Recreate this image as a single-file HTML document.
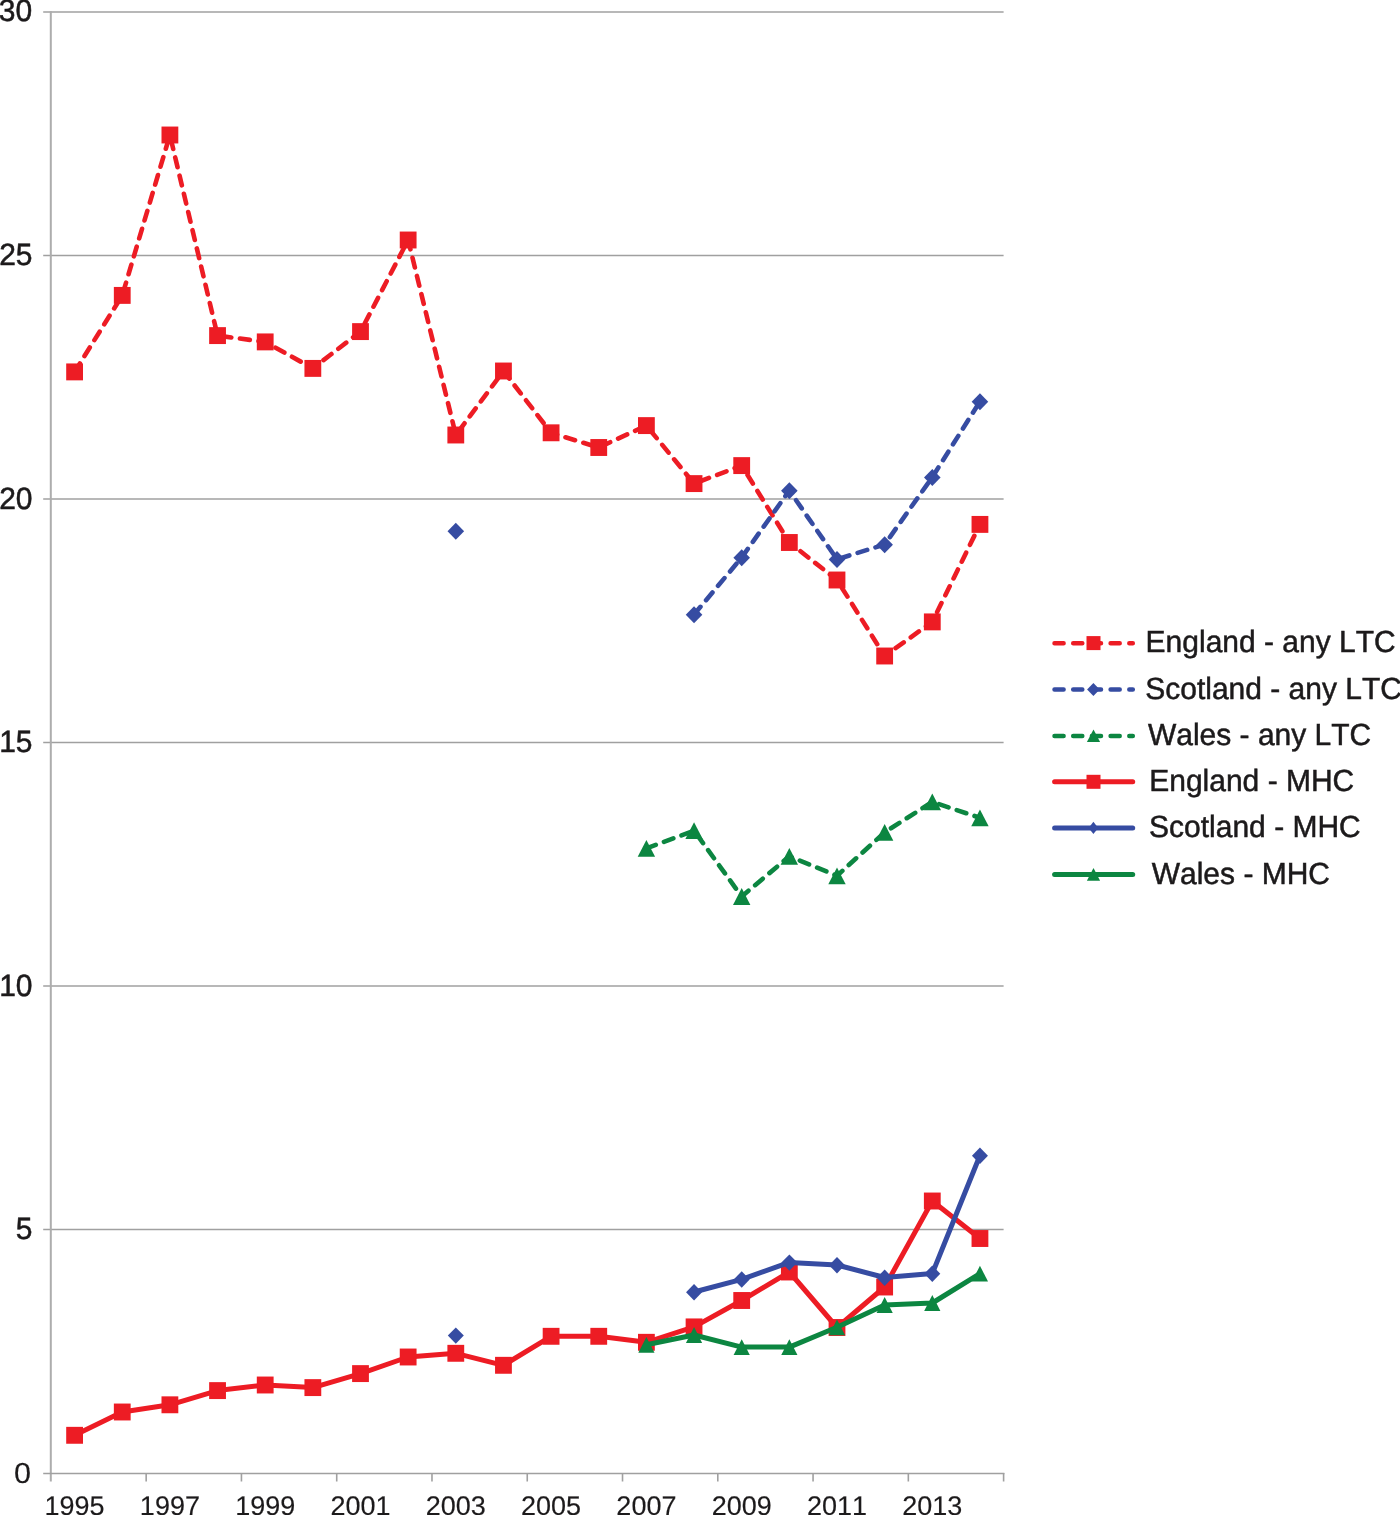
<!DOCTYPE html>
<html lang="en"><head><meta charset="utf-8"><title>Chart</title>
<style>html,body{margin:0;padding:0;background:#fff}svg{display:block}text{font-family:"Liberation Sans",sans-serif;fill:#1c1a1b;font-kerning:none;text-rendering:geometricPrecision;stroke:#1c1a1b;stroke-width:0.5px}text.c{stroke-width:0.15px}</style></head><body>
<svg width="1400" height="1515" viewBox="0 0 1400 1515">
<rect width="1400" height="1515" fill="#fff"/>
<line x1="43.2" y1="12.05" x2="1003.6" y2="12.05" stroke="#a0a0a0" stroke-width="1.6"/>
<line x1="43.2" y1="255.55" x2="1003.6" y2="255.55" stroke="#a0a0a0" stroke-width="1.6"/>
<line x1="43.2" y1="499.05" x2="1003.6" y2="499.05" stroke="#a0a0a0" stroke-width="1.6"/>
<line x1="43.2" y1="742.55" x2="1003.6" y2="742.55" stroke="#a0a0a0" stroke-width="1.6"/>
<line x1="43.2" y1="986.05" x2="1003.6" y2="986.05" stroke="#a0a0a0" stroke-width="1.6"/>
<line x1="43.2" y1="1229.55" x2="1003.6" y2="1229.55" stroke="#a0a0a0" stroke-width="1.6"/>
<line x1="50.8" y1="11.2" x2="50.8" y2="1481.5" stroke="#adadad" stroke-width="2"/>
<line x1="43.2" y1="1473.5" x2="1004.4" y2="1473.5" stroke="#a0a0a0" stroke-width="1.5"/>
<line x1="146.17" y1="1473" x2="146.17" y2="1481.5" stroke="#a0a0a0" stroke-width="1.6"/>
<line x1="241.44" y1="1473" x2="241.44" y2="1481.5" stroke="#a0a0a0" stroke-width="1.6"/>
<line x1="336.71" y1="1473" x2="336.71" y2="1481.5" stroke="#a0a0a0" stroke-width="1.6"/>
<line x1="431.98" y1="1473" x2="431.98" y2="1481.5" stroke="#a0a0a0" stroke-width="1.6"/>
<line x1="527.25" y1="1473" x2="527.25" y2="1481.5" stroke="#a0a0a0" stroke-width="1.6"/>
<line x1="622.52" y1="1473" x2="622.52" y2="1481.5" stroke="#a0a0a0" stroke-width="1.6"/>
<line x1="717.79" y1="1473" x2="717.79" y2="1481.5" stroke="#a0a0a0" stroke-width="1.6"/>
<line x1="813.06" y1="1473" x2="813.06" y2="1481.5" stroke="#a0a0a0" stroke-width="1.6"/>
<line x1="908.33" y1="1473" x2="908.33" y2="1481.5" stroke="#a0a0a0" stroke-width="1.6"/>
<line x1="1003.60" y1="1473" x2="1003.60" y2="1481.5" stroke="#a0a0a0" stroke-width="1.6"/>
<text transform="translate(32.1 21.45) scale(1 1.025)" font-size="30" text-anchor="end">30</text>
<text transform="translate(32.5 265.45) scale(1 1.025)" font-size="30" text-anchor="end">25</text>
<text transform="translate(32.5 508.95) scale(1 1.025)" font-size="30" text-anchor="end">20</text>
<text transform="translate(32.5 752.45) scale(1 1.025)" font-size="30" text-anchor="end">15</text>
<text transform="translate(32.5 995.95) scale(1 1.025)" font-size="30" text-anchor="end">10</text>
<text transform="translate(32.5 1239.45) scale(1 1.025)" font-size="30" text-anchor="end">5</text>
<text class="c" x="22.4" y="1483.2" font-size="29" text-anchor="middle" textLength="17" lengthAdjust="spacingAndGlyphs">0</text>
<text class="c" x="74.60" y="1515.1" font-size="27" text-anchor="middle">1995</text>
<text class="c" x="169.90" y="1515.1" font-size="27" text-anchor="middle">1997</text>
<text class="c" x="265.20" y="1515.1" font-size="27" text-anchor="middle">1999</text>
<text class="c" x="360.50" y="1515.1" font-size="27" text-anchor="middle">2001</text>
<text class="c" x="455.80" y="1515.1" font-size="27" text-anchor="middle">2003</text>
<text class="c" x="551.10" y="1515.1" font-size="27" text-anchor="middle">2005</text>
<text class="c" x="646.40" y="1515.1" font-size="27" text-anchor="middle">2007</text>
<text class="c" x="741.70" y="1515.1" font-size="27" text-anchor="middle">2009</text>
<text class="c" x="837.00" y="1515.1" font-size="27" text-anchor="middle">2011</text>
<text class="c" x="932.30" y="1515.1" font-size="27" text-anchor="middle">2013</text>
<path d="M74.60 371.90L122.25 295.40L169.90 135.00L217.55 335.60L265.20 341.90L312.85 368.40L360.50 331.60L408.15 240.00L455.80 435.00L503.45 371.00L551.10 432.80L598.75 447.50L646.40 425.60L694.05 483.60L741.70 465.60L789.35 542.50L837.00 580.00L884.65 656.00L932.30 621.90L979.95 524.40" fill="none" stroke="#ed1c24" stroke-width="4.6" stroke-linejoin="round" stroke-dasharray="10 8.7" stroke-linecap="round"/>
<rect x="66.20" y="363.45" width="16.8" height="16.9" fill="#ed1c24"/>
<rect x="113.85" y="286.95" width="16.8" height="16.9" fill="#ed1c24"/>
<rect x="161.50" y="126.55" width="16.8" height="16.9" fill="#ed1c24"/>
<rect x="209.15" y="327.15" width="16.8" height="16.9" fill="#ed1c24"/>
<rect x="256.80" y="333.45" width="16.8" height="16.9" fill="#ed1c24"/>
<rect x="304.45" y="359.95" width="16.8" height="16.9" fill="#ed1c24"/>
<rect x="352.10" y="323.15" width="16.8" height="16.9" fill="#ed1c24"/>
<rect x="399.75" y="231.55" width="16.8" height="16.9" fill="#ed1c24"/>
<rect x="447.40" y="426.55" width="16.8" height="16.9" fill="#ed1c24"/>
<rect x="495.05" y="362.55" width="16.8" height="16.9" fill="#ed1c24"/>
<rect x="542.70" y="424.35" width="16.8" height="16.9" fill="#ed1c24"/>
<rect x="590.35" y="439.05" width="16.8" height="16.9" fill="#ed1c24"/>
<rect x="638.00" y="417.15" width="16.8" height="16.9" fill="#ed1c24"/>
<rect x="685.65" y="475.15" width="16.8" height="16.9" fill="#ed1c24"/>
<rect x="733.30" y="457.15" width="16.8" height="16.9" fill="#ed1c24"/>
<rect x="780.95" y="534.05" width="16.8" height="16.9" fill="#ed1c24"/>
<rect x="828.60" y="571.55" width="16.8" height="16.9" fill="#ed1c24"/>
<rect x="876.25" y="647.55" width="16.8" height="16.9" fill="#ed1c24"/>
<rect x="923.90" y="613.45" width="16.8" height="16.9" fill="#ed1c24"/>
<rect x="971.55" y="515.95" width="16.8" height="16.9" fill="#ed1c24"/>
<path d="M694.05 614.50L741.70 557.50L789.35 490.50L837.00 559.30L884.65 544.50L932.30 477.20L979.95 401.50" fill="none" stroke="#364ca2" stroke-width="4.6" stroke-linejoin="round" stroke-dasharray="10 8.7" stroke-linecap="round"/>
<path d="M455.80 522.70L464.10 531.20L455.80 539.70L447.50 531.20Z" fill="#364ca2"/>
<path d="M694.05 606.20L702.35 614.70L694.05 623.20L685.75 614.70Z" fill="#364ca2"/>
<path d="M741.70 549.20L750.00 557.70L741.70 566.20L733.40 557.70Z" fill="#364ca2"/>
<path d="M789.35 482.20L797.65 490.70L789.35 499.20L781.05 490.70Z" fill="#364ca2"/>
<path d="M837.00 551.00L845.30 559.50L837.00 568.00L828.70 559.50Z" fill="#364ca2"/>
<path d="M884.65 536.20L892.95 544.70L884.65 553.20L876.35 544.70Z" fill="#364ca2"/>
<path d="M932.30 468.90L940.60 477.40L932.30 485.90L924.00 477.40Z" fill="#364ca2"/>
<path d="M979.95 393.20L988.25 401.70L979.95 410.20L971.65 401.70Z" fill="#364ca2"/>
<path d="M646.40 848.30L694.05 830.70L741.70 896.50L789.35 856.30L837.00 875.80L884.65 832.30L932.30 801.90L979.95 817.80" fill="none" stroke="#0c8641" stroke-width="4.6" stroke-linejoin="round" stroke-dasharray="10 8.7" stroke-linecap="round"/>
<path d="M646.40 839.90L655.10 856.70L637.70 856.70Z" fill="#0c8641"/>
<path d="M694.05 822.30L702.75 839.10L685.35 839.10Z" fill="#0c8641"/>
<path d="M741.70 888.10L750.40 904.90L733.00 904.90Z" fill="#0c8641"/>
<path d="M789.35 847.90L798.05 864.70L780.65 864.70Z" fill="#0c8641"/>
<path d="M837.00 867.40L845.70 884.20L828.30 884.20Z" fill="#0c8641"/>
<path d="M884.65 823.90L893.35 840.70L875.95 840.70Z" fill="#0c8641"/>
<path d="M932.30 793.50L941.00 810.30L923.60 810.30Z" fill="#0c8641"/>
<path d="M979.95 809.40L988.65 826.20L971.25 826.20Z" fill="#0c8641"/>
<path d="M74.60 1435.30L122.25 1412.00L169.90 1404.80L217.55 1390.60L265.20 1385.00L312.85 1387.60L360.50 1373.60L408.15 1357.00L455.80 1353.30L503.45 1365.30L551.10 1336.30L598.75 1336.30L646.40 1342.30L694.05 1326.90L741.70 1300.50L789.35 1272.00L837.00 1327.50L884.65 1287.00L932.30 1201.00L979.95 1238.50" fill="none" stroke="#ed1c24" stroke-width="5.0" stroke-linejoin="round" stroke-linecap="round"/>
<rect x="66.20" y="1426.85" width="16.8" height="16.9" fill="#ed1c24"/>
<rect x="113.85" y="1403.55" width="16.8" height="16.9" fill="#ed1c24"/>
<rect x="161.50" y="1396.35" width="16.8" height="16.9" fill="#ed1c24"/>
<rect x="209.15" y="1382.15" width="16.8" height="16.9" fill="#ed1c24"/>
<rect x="256.80" y="1376.55" width="16.8" height="16.9" fill="#ed1c24"/>
<rect x="304.45" y="1379.15" width="16.8" height="16.9" fill="#ed1c24"/>
<rect x="352.10" y="1365.15" width="16.8" height="16.9" fill="#ed1c24"/>
<rect x="399.75" y="1348.55" width="16.8" height="16.9" fill="#ed1c24"/>
<rect x="447.40" y="1344.85" width="16.8" height="16.9" fill="#ed1c24"/>
<rect x="495.05" y="1356.85" width="16.8" height="16.9" fill="#ed1c24"/>
<rect x="542.70" y="1327.85" width="16.8" height="16.9" fill="#ed1c24"/>
<rect x="590.35" y="1327.85" width="16.8" height="16.9" fill="#ed1c24"/>
<rect x="638.00" y="1333.85" width="16.8" height="16.9" fill="#ed1c24"/>
<rect x="685.65" y="1318.45" width="16.8" height="16.9" fill="#ed1c24"/>
<rect x="733.30" y="1292.05" width="16.8" height="16.9" fill="#ed1c24"/>
<rect x="780.95" y="1263.55" width="16.8" height="16.9" fill="#ed1c24"/>
<rect x="828.60" y="1319.05" width="16.8" height="16.9" fill="#ed1c24"/>
<rect x="876.25" y="1278.55" width="16.8" height="16.9" fill="#ed1c24"/>
<rect x="923.90" y="1192.55" width="16.8" height="16.9" fill="#ed1c24"/>
<rect x="971.55" y="1230.05" width="16.8" height="16.9" fill="#ed1c24"/>
<path d="M694.05 1292.00L741.70 1279.30L789.35 1262.40L837.00 1265.00L884.65 1277.50L932.30 1273.50L979.95 1155.50" fill="none" stroke="#364ca2" stroke-width="5.0" stroke-linejoin="round" stroke-linecap="round"/>
<path d="M455.80 1327.40L463.80 1335.60L455.80 1343.80L447.80 1335.60Z" fill="#364ca2"/>
<path d="M694.05 1284.00L702.05 1292.20L694.05 1300.40L686.05 1292.20Z" fill="#364ca2"/>
<path d="M741.70 1271.30L749.70 1279.50L741.70 1287.70L733.70 1279.50Z" fill="#364ca2"/>
<path d="M789.35 1254.40L797.35 1262.60L789.35 1270.80L781.35 1262.60Z" fill="#364ca2"/>
<path d="M837.00 1257.00L845.00 1265.20L837.00 1273.40L829.00 1265.20Z" fill="#364ca2"/>
<path d="M884.65 1269.50L892.65 1277.70L884.65 1285.90L876.65 1277.70Z" fill="#364ca2"/>
<path d="M932.30 1265.50L940.30 1273.70L932.30 1281.90L924.30 1273.70Z" fill="#364ca2"/>
<path d="M979.95 1147.50L987.95 1155.70L979.95 1163.90L971.95 1155.70Z" fill="#364ca2"/>
<path d="M646.40 1344.80L694.05 1335.00L741.70 1347.10L789.35 1347.10L837.00 1327.30L884.65 1305.00L932.30 1303.00L979.95 1273.70" fill="none" stroke="#0c8641" stroke-width="5.0" stroke-linejoin="round" stroke-linecap="round"/>
<path d="M646.40 1336.90L654.50 1352.70L638.30 1352.70Z" fill="#0c8641"/>
<path d="M694.05 1327.10L702.15 1342.90L685.95 1342.90Z" fill="#0c8641"/>
<path d="M741.70 1339.20L749.80 1355.00L733.60 1355.00Z" fill="#0c8641"/>
<path d="M789.35 1339.20L797.45 1355.00L781.25 1355.00Z" fill="#0c8641"/>
<path d="M837.00 1319.40L845.10 1335.20L828.90 1335.20Z" fill="#0c8641"/>
<path d="M884.65 1297.10L892.75 1312.90L876.55 1312.90Z" fill="#0c8641"/>
<path d="M932.30 1295.10L940.40 1310.90L924.20 1310.90Z" fill="#0c8641"/>
<path d="M979.95 1265.80L988.05 1281.60L971.85 1281.60Z" fill="#0c8641"/>
<path d="M1054.5 643.3L1132.8 643.3" stroke="#ed1c24" stroke-width="4.5" stroke-linecap="round" stroke-dasharray="9.1 9.6" fill="none"/>
<rect x="1086.50" y="636.10" width="14" height="14" fill="#ed1c24"/>
<text transform="translate(1145.6 652.40) scale(1 1.02)" font-size="30">England - any LTC</text>
<path d="M1054.5 689.6L1132.8 689.6" stroke="#364ca2" stroke-width="4.5" stroke-linecap="round" stroke-dasharray="9.1 9.6" fill="none"/>
<path d="M1093.40 683.00L1099.70 689.50L1093.40 696.00L1087.10 689.50Z" fill="#364ca2"/>
<text transform="translate(1145.2 698.70) scale(1 1.02)" font-size="30">Scotland - any LTC</text>
<path d="M1054.5 735.9L1132.8 735.9" stroke="#0c8641" stroke-width="4.5" stroke-linecap="round" stroke-dasharray="9.1 9.6" fill="none"/>
<path d="M1093.50 729.40L1100.10 742.00L1086.90 742.00Z" fill="#0c8641"/>
<text transform="translate(1147.9 745.00) scale(1 1.02)" font-size="30">Wales - any LTC</text>
<path d="M1054.6 781.8000000000001L1132.7 781.8000000000001" stroke="#ed1c24" stroke-width="5" stroke-linecap="round" fill="none"/>
<rect x="1086.50" y="774.80" width="14" height="14" fill="#ed1c24"/>
<text transform="translate(1149.2 791.10) scale(1 1.02)" font-size="30">England - MHC</text>
<path d="M1054.6 827.9000000000001L1132.7 827.9000000000001" stroke="#364ca2" stroke-width="5" stroke-linecap="round" fill="none"/>
<path d="M1093.4 821.70L1098.2 827.90L1093.4 834.10L1088.6 827.90Z" fill="#364ca2"/>
<text transform="translate(1149.05 837.20) scale(1 1.02)" font-size="30">Scotland - MHC</text>
<path d="M1054.6 874.4000000000001L1132.7 874.4000000000001" stroke="#0c8641" stroke-width="5" stroke-linecap="round" fill="none"/>
<path d="M1093.50 868.10L1100.10 880.70L1086.90 880.70Z" fill="#0c8641"/>
<text transform="translate(1151.7 883.70) scale(1 1.02)" font-size="30">Wales - MHC</text>
</svg></body></html>
